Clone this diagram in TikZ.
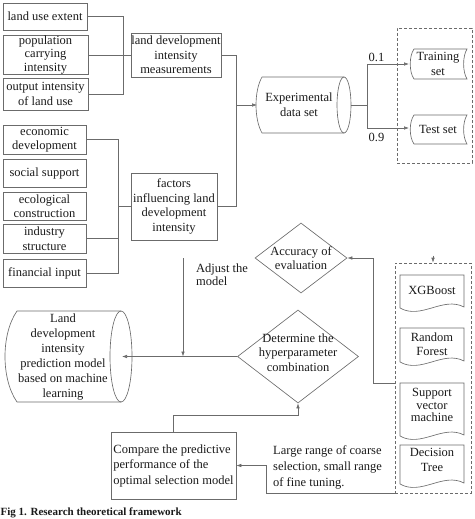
\documentclass[tikz,border=0pt]{standalone}
\usepackage{fontspec}
\setmainfont{Liberation Serif}
\usetikzlibrary{shapes.geometric,arrows.meta,calc}
\definecolor{lcol}{gray}{0.42}
\definecolor{tcol}{gray}{0.1}
\begin{document}
\begin{tikzpicture}[x=1pt,y=-1pt,
 con/.style={draw=lcol,line width=0.65pt},
 arr/.style={con,-{Latex[length=5pt,width=3.6pt]}},
 box/.style={con,rectangle,inner sep=0pt,align=center,text=tcol,font=\fontsize{12.5}{14.5}\selectfont},
 lbl/.style={inner sep=0pt,align=center,text=tcol,font=\fontsize{12.5}{15}\selectfont},
 dia/.style={con,diamond,inner sep=0pt},
 dbox/.style={draw=lcol,line width=0.65pt,dash pattern=on 3pt off 2pt,rectangle,inner sep=0pt},
]
\useasboundingbox (0,0) rectangle (474,519);

% ---------- group 1
\node[box,minimum width=84,minimum height=27] (a1) at (45,16.5) {land use extent};
\node[box,minimum width=85,minimum height=38,font=\fontsize{12.5}{13.5}\selectfont] (a2) at (45.5,55) {population\\carrying\\intensity};
\node[box,minimum width=85,minimum height=32] (a3) at (45.5,94) {output intensity\\of land use};
\node[box,minimum width=90,minimum height=44] (m) at (176,55) {land development\\intensity\\measurements};

% ---------- group 2
\node[box,minimum width=83,minimum height=29] (b1) at (44.5,139.5) {economic\\development};
\node[box,minimum width=83,minimum height=28] (b2) at (44.5,173) {social support};
\node[box,minimum width=83,minimum height=28] (b3) at (44.5,206) {ecological\\construction};
\node[box,minimum width=83,minimum height=29] (b4) at (44.5,238.5) {industry\\structure};
\node[box,minimum width=83,minimum height=28] (b5) at (44.5,273) {financial input};
\node[box,minimum width=86,minimum height=67] (f) at (174,206.5) {factors\\influencing land\\development\\intensity};

% ---------- experimental data set cylinder
\draw[con] (344,105) ellipse[x radius=7,y radius=28];
\draw[con] (344,77) -- (262,77) .. controls (254,91) and (254,119) .. (262,133) -- (344,133);
\node[lbl] (exp) at (299,105) {Experimental\\data set};
\coordinate (expW) at (257,105);
\coordinate (expE) at (351,105);

% ---------- training / test
\node[dbox,minimum width=75,minimum height=135] (dset) at (434.5,95.5) {};
\draw[con] (414,49) -- (467,49) .. controls (462.5,56) and (462.5,72) .. (467,79) -- (414,79) .. controls (409,72) and (409,56) .. (414,49) -- cycle;
\node[lbl] (tr) at (438,64) {Training\\set};
\draw[con] (414,115) -- (467,115) .. controls (462.5,122) and (462.5,137) .. (467,144) -- (414,144) .. controls (409,137) and (409,122) .. (414,115) -- cycle;
\node[lbl] (te) at (438,129.5) {Test set};
\coordinate (trW) at (409,64);
\coordinate (teW) at (409,128);
\coordinate (sp) at (367,105);

% ---------- land development prediction model cylinder
\draw[con] (121,356.5) ellipse[x radius=11,y radius=45.5];
\draw[con] (121,311) -- (17,311) .. controls (1,334) and (1,379) .. (17,402) -- (121,402);
\node[lbl] (lcyl) at (63,357) {Land\\development\\intensity\\prediction model\\based on machine\\learning};
\coordinate (lcE) at (122,356.5);

% ---------- diamonds
\node[dia,minimum width=92,minimum height=70] (acc) at (301,258) {};
\node[lbl,font=\fontsize{12.5}{13.5}\selectfont] (acct) at (301,258) {Accuracy of\\evaluation};
\node[dia,minimum width=121,minimum height=93] (det) at (298,356.5) {};
\node[lbl,font=\fontsize{12.5}{14.5}\selectfont] (dett) at (298,352.5) {Determine the\\hyperparameter\\combination};

% ---------- models
\node[dbox,minimum width=76,minimum height=230] (models) at (433,378) {};
\newcommand\mydoc[2]{\draw[con] (400,#1) -- (464,#1) -- (464,#2-1) .. controls (443,#2-12) and (421,#2+12) .. (400,#2) -- cycle;}
\mydoc{275}{308}
\node[lbl] (xgb) at (432,290) {XGBoost};
\mydoc{328}{362}
\node[lbl,font=\fontsize{12.5}{13.5}\selectfont] (rf) at (432,344) {Random\\Forest};
\mydoc{383}{436}
\node[lbl,font=\fontsize{12.5}{12.5}\selectfont] (svm) at (432,405) {Support\\vector\\machine};
\mydoc{445}{484}
\node[lbl,font=\fontsize{12.5}{14.5}\selectfont] (dt) at (432,460) {Decision\\Tree};
\coordinate (mIn) at (395,383);

% ---------- compare box
\node[box,align=left,minimum width=125,minimum height=67,font=\fontsize{12.5}{15.5}\selectfont] (cmp) at (173.5,465.5) {Compare the predictive\\performance of the\\optimal selection model};

% ---------- labels
\node[lbl] (l01) at (376.5,57) {0.1};
\node[lbl] (l09) at (376.5,137) {0.9};
\node[lbl,align=left,anchor=west,font=\fontsize{12.5}{13.5}\selectfont] (adj) at (196,274.5) {Adjust the\\model};
\node[lbl,align=left,anchor=west,font=\fontsize{12.5}{16}\selectfont] (lr) at (273,467) {Large range of coarse\\selection, small range\\of fine tuning.};
\node[anchor=base west,inner sep=0pt,text=tcol,font=\bfseries\fontsize{11}{13}\selectfont] (cap) at (0.5,515.5) {Fig 1. Research theoretical framework};

% ---------- connectors
\coordinate (br1) at (123,55);
\draw[con] (a1.east) -| (br1);
\draw[con] (a3.east) -| (br1);
\draw[con] (a2.east) -- (m.west);
\coordinate (rj) at (236,206.5);
\draw[con] (m.east) -| (rj);
\draw[con] (f.east) -- (rj);
\draw[arr] (expW -| rj) -- (expW);
\coordinate (br2) at (118,206.5);
\draw[con] (b1.east) -| (br2);
\draw[con] (b5.east) -| (br2);
\draw[con] (b4.east) -- (b4.east -| br2);
\draw[con] (br2) -- (f.west);

\draw[con] (expE) -- (sp);
\draw[arr] (sp) |- (trW);
\draw[arr] (sp) |- (teW);

\draw[arr] ($(models.north)+(0,-7)$) -- (models.north);
\draw[arr] (mIn) -- ++(-22,0) |- (acc.east);
\coordinate (adjTop) at (183,258);
\draw[arr] (adjTop) -- (adjTop |- det.west);
\draw[arr] (det.west) -- (lcE);
\draw[arr] (cmp.north) -- ++(0,-16) -| (det.south);
\draw[arr] (models.south west) -| ($(cmp.east)+(30,0)$) -- (cmp.east);
\end{tikzpicture}
\end{document}
